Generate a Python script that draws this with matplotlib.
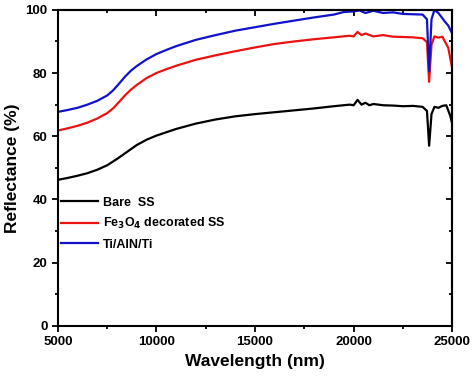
import numpy as np
import matplotlib.pyplot as plt
from matplotlib.ticker import MultipleLocator

plt.rcParams['font.family'] = ['Liberation Sans', 'DejaVu Sans']
plt.rcParams['font.weight'] = 'bold'

# wavelength (nm) and reflectance (%)
wl_bare = [5000, 5500, 6000, 6500, 7000, 7500, 8000, 8500, 9000, 9500, 10000,
           11000, 12000, 13000, 14000, 15000, 16000, 17000, 18000, 19000, 19800,
           20000, 20200, 20400, 20600, 20800, 21000, 21500, 22000, 22500, 23000,
           23500, 23720, 23830, 23950, 24100, 24300, 24500, 24700, 24900, 25000]
r_bare = [46.2, 46.8, 47.5, 48.3, 49.4, 50.8, 52.8, 55.0, 57.2, 58.9, 60.2,
          62.3, 64.0, 65.3, 66.3, 67.0, 67.6, 68.2, 68.8, 69.5, 70.0,
          69.8, 71.5, 70.0, 70.6, 69.8, 70.2, 69.8, 69.7, 69.5, 69.6,
          69.3, 68.0, 57.0, 67.0, 69.3, 69.0, 69.6, 69.8, 66.5, 64.0]

wl_fe = [5000, 5500, 6000, 6500, 7000, 7500, 7800, 8100, 8400, 8700, 9000,
         9500, 10000, 10500, 11000, 12000, 13000, 14000, 15000, 16000, 17000,
         18000, 19000, 19800, 20000, 20200, 20400, 20600, 21000, 21500, 22000,
         22500, 23000, 23500, 23720, 23830, 23950, 24100, 24300, 24500, 24800,
         25000]
r_fe = [61.8, 62.5, 63.3, 64.3, 65.6, 67.3, 68.8, 70.8, 72.9, 74.7, 76.2,
        78.4, 80.0, 81.2, 82.3, 84.2, 85.6, 86.9, 88.1, 89.2, 90.0,
        90.7, 91.3, 91.8, 91.6, 93.0, 92.0, 92.5, 91.6, 92.0, 91.5,
        91.4, 91.3, 91.0, 89.8, 77.2, 89.0, 91.6, 91.2, 91.5, 88.0,
        81.5]

wl_ti = [5000, 5500, 6000, 6500, 7000, 7500, 7800, 8100, 8400, 8700, 9000,
         9500, 10000, 10500, 11000, 12000, 13000, 14000, 15000, 16000, 17000,
         18000, 19000, 19500, 20000, 20300, 20600, 21000, 21500, 22000, 22500,
         23000, 23500, 23720, 23830, 23950, 24100, 24300, 24600, 24800, 25000]
r_ti = [67.7, 68.3, 69.0, 70.0, 71.2, 72.9, 74.5, 76.6, 78.8, 80.7, 82.2,
        84.3, 86.0, 87.3, 88.5, 90.5, 92.0, 93.4, 94.5, 95.6, 96.6,
        97.6, 98.5, 99.3, 99.5, 99.8, 99.0, 99.7, 99.0, 99.2, 98.7,
        98.6, 98.5, 97.0, 80.5, 97.0, 100.0, 99.0, 96.5, 95.0, 92.5]

labels = ['Bare  SS', 'Fe$_\\mathbf{3}$O$_\\mathbf{4}$ decorated SS', 'Ti/AlN/Ti']
colors = ['black', '#ee1111', '#1111cc']

fig, ax = plt.subplots(figsize=(4.74, 3.78), dpi=100)
fig.subplots_adjust(left=0.122, right=0.954, top=0.974, bottom=0.138)

ax.plot(wl_bare, r_bare, color=colors[0], lw=1.6, label=labels[0])
ax.plot(wl_fe, r_fe, color=colors[1], lw=1.6, label=labels[1])
ax.plot(wl_ti, r_ti, color=colors[2], lw=1.6, label=labels[2])

ax.set_xlim(5000, 25000)
ax.set_ylim(0, 100)
ax.xaxis.set_major_locator(MultipleLocator(5000))
ax.xaxis.set_minor_locator(MultipleLocator(2500))
ax.yaxis.set_major_locator(MultipleLocator(20))
ax.yaxis.set_minor_locator(MultipleLocator(10))
ax.tick_params(which='both', direction='out', width=1.3, labelsize=9.5)
ax.tick_params(which='major', length=4)
ax.tick_params(which='minor', length=2.5)
ax.tick_params(which='both', top=False, right=False)
sec_x = ax.secondary_xaxis('top')
sec_x.xaxis.set_major_locator(MultipleLocator(5000))
sec_x.xaxis.set_minor_locator(MultipleLocator(2500))
sec_x.tick_params(which='both', direction='in', width=1.3, labeltop=False)
sec_x.tick_params(which='major', length=4)
sec_x.tick_params(which='minor', length=2.5)
sec_y = ax.secondary_yaxis('right')
sec_y.yaxis.set_major_locator(MultipleLocator(20))
sec_y.yaxis.set_minor_locator(MultipleLocator(10))
sec_y.tick_params(which='both', direction='in', width=1.3, labelright=False)
sec_y.tick_params(which='major', length=4)
sec_y.tick_params(which='minor', length=2.5)
for s in ax.spines.values():
    s.set_linewidth(1.5)
for s in list(sec_x.spines.values()) + list(sec_y.spines.values()):
    s.set_linewidth(1.5)

ax.set_xlabel('Wavelength (nm)', fontsize=12.5, fontweight='bold')
ax.set_ylabel('Reflectance (%)', fontsize=12.5, fontweight='bold')

ax.legend(loc='upper left', bbox_to_anchor=(-0.005, 0.425), frameon=False,
          handlelength=3.0, handletextpad=0.4, labelspacing=0.6,
          borderaxespad=0.0, prop={'weight': 'bold', 'size': 9})

fig.savefig('out.png', dpi=100)
